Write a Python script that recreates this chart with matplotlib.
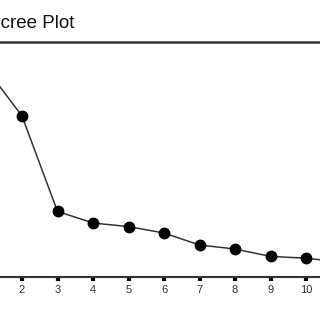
import matplotlib
matplotlib.use("Agg")
import matplotlib.pyplot as plt

components = [1, 2, 3, 4, 5, 6, 7, 8, 9, 10, 11]
eigenvalues = [10.4, 8.05, 3.28, 2.7, 2.52, 2.2, 1.6, 1.4, 1.03, 0.94, 0.74]
tick_labels = ["1", "2", "3", "4", "5", "6", "7", "8", "9", "10", "11"]
title = "Scree Plot"

plt.rcParams['font.family'] = ['Liberation Sans', 'DejaVu Sans']

fig = plt.figure(figsize=(3.2, 3.2), dpi=100)
ax = fig.add_axes([0, 43 / 320, 1, (277 - 42) / 320])
ax.plot(components, eigenvalues, color="#333333", lw=1.1, marker="o",
        markersize=7.5, markerfacecolor="black", markeredgecolor="black", zorder=3)
ax.set_xticks(components)
ax.set_xticklabels(tick_labels, fontsize=8, color="#333333")
ax.set_xlim(2 - 22 / 35.5, 10 + 14 / 35.5)
ax.set_ylim(0, 235 / 20)
ax.tick_params(axis="x", direction="out", length=3, width=3, color="black", pad=3)
ax.set_yticks([])
for s in ["left", "right"]:
    ax.spines[s].set_visible(False)
ax.spines["bottom"].set_color("#333333")
ax.spines["bottom"].set_linewidth(1.5)
ax.spines["top"].set_color("#333333")
ax.spines["top"].set_linewidth(1.8)

fig.text(-12 / 320, 1 - 28 / 320, title, fontsize=13.5, va="baseline", ha="left", color="#111111")

fig.savefig("out.png", dpi=100)
